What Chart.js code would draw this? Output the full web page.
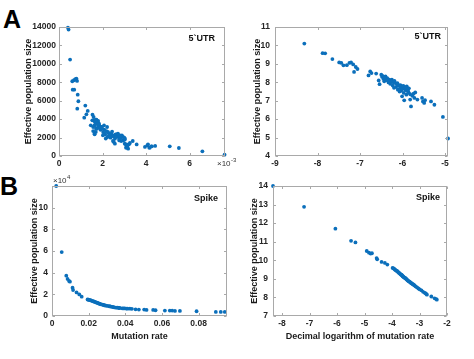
<!DOCTYPE html>
<html><head><meta charset="utf-8">
<script src="https://cdn.jsdelivr.net/npm/chart.js@4.4.1/dist/chart.umd.min.js"></script>
<style>
html,body{margin:0;padding:0;background:#fff;width:474px;height:359px;overflow:hidden;position:relative;font-family:"Liberation Sans",Arial,sans-serif;}
canvas{position:absolute;}
.lbl{position:absolute;font-weight:bold;font-size:25px;color:#000;line-height:1;}
</style></head><body>
<div class="lbl" style="left:3px;top:7px">A</div>
<div class="lbl" style="left:0px;top:174px">B</div>
<canvas id="c1" width="237" height="175" style="left:0;top:0"></canvas>
<canvas id="c2" width="237" height="175" style="left:237px;top:0"></canvas>
<canvas id="c3" width="237" height="184" style="left:0;top:175px"></canvas>
<canvas id="c4" width="237" height="184" style="left:237px;top:175px"></canvas>
<script>
// ---------- DATA ----------
// Panel A left: 5'UTR, mutation rate (x, in units of 10^-3) vs effective population size
const utrRateE3 = [0.41,0.44,0.51,0.61,0.69,0.75,0.80,0.83,0.63,0.70,0.86,0.89,0.84,1.21,1.32,1.16,1.26,1.54,1.59,
 1.62,1.66,1.72,1.75,1.80,1.63,1.57,1.70,1.85,1.91,1.97,1.57,1.63,2.03,2.08,2.12,2.18,2.23,2.28,2.34,2.41,2.49,2.57,2.52,2.65,2.72,2.77,2.83,2.89,2.95,3.03,3.11,3.08,3.18,3.26,3.39,3.57,3.95,4.06,4.15,4.27,4.42,
 1.46,1.53,1.69,1.79,1.69,1.75,1.84,1.64,1.95,2.07,2.10,2.21,2.25,2.30,2.37,2.48,2.60,2.71,2.76,2.57,2.48,2.86,2.94,3.02,3.02,3.09,3.12,3.22,4.09,4.17,4.24,5.09,5.51,6.59,7.61,
 1.68,1.74,1.78,1.88,1.99,2.02,2.15,2.44,2.62,2.80,3.00,3.15];
const utrNe = [13940,13720,10460,8110,8220,8330,8400,8150,7200,7200,6660,5940,5140,5470,4890,4160,4520,4480,4230,
 3860,3650,3940,3510,3800,3320,3150,2970,3320,2850,3150,2710,2420,2600,2850,2340,2710,2060,2490,2240,2420,2130,1880,1520,2340,2130,1690,1980,2240,1690,1880,1260,900,790,1410,1630,1260,980,1150,900,1050,1090,
 3330,3870,3950,3150,2610,2970,3510,2350,3150,3330,2430,3150,2610,2240,1990,2240,2350,2430,1880,1340,1630,1630,2060,1770,1340,1160,905,1270,1270,905,1050,1050,870,510,145,
 3700,3600,3450,3050,2950,2250,1900,2650,2050,2230,2000,1100];
// Panel A right: log of mutation rate vs log of effective population size
const utrLogRate = [-8.31,-7.88,-7.82,-7.65,-7.49,-7.44,-7.39,-7.31,-7.25,-7.21,-7.16,-7.14,-7.10,-7.06,-6.80,-6.76,-6.73,-6.62,-6.56,-6.54,
 -6.50,-6.48,-6.45,-6.43,-6.40,-6.38,-6.36,-6.33,-6.31,-6.29,-6.25,-6.23,-6.21,-6.17,-6.15,-6.13,-6.11,-6.09,-6.06,-6.03,-6.01,-6.00,-5.97,-5.95,-5.93,-5.91,-5.90,-5.88,-5.86,-5.85,
 -6.01,-5.96,-5.82,-5.80,-5.77,-5.74,-5.72,-5.70,-5.65,-5.54,-5.52,-5.49,-5.47,-5.33,-5.25,-5.05,-4.93,
 -6.47,-6.42,-6.35,-6.27,-6.19,-6.12,-6.05,-5.98,-5.92,-5.87,-6.20,-6.07,-5.82];
const utrLogNe = [10.10,9.58,9.57,9.26,9.08,9.05,8.92,8.93,9.05,9.08,8.97,8.56,8.83,8.72,8.37,8.59,8.50,8.47,8.10,7.90,
 8.41,8.29,8.18,8.05,8.32,8.14,8.23,7.99,8.14,7.92,8.14,7.82,7.99,7.96,7.74,7.88,7.60,7.83,7.69,7.54,7.78,7.65,7.42,7.69,7.57,7.33,7.78,7.60,7.46,7.67,
 7.24,7.02,7.06,6.69,7.27,7.38,7.15,7.45,7.06,7.15,6.96,6.88,7.03,6.96,6.78,6.12,4.95,
 8.35,8.25,8.10,8.05,8.08,7.95,7.85,7.80,7.72,7.52,7.70,7.50,7.35];
// Panel B left: Spike, mutation rate vs effective population size (y in units of 10^4)
const spikeRate = [0.0023,0.0053,0.0078,0.0085,0.0093,0.0098,0.0112,0.0115,0.0134,0.0149,0.0162,0.0194,0.0198,0.0203,0.0208,0.0213,0.0218,0.0222,0.0227,0.0231,0.0236,0.0240,0.0245,0.0249,0.0254,0.0258,0.0263,0.0267,0.0276,0.0281,0.0285,0.0290,0.0294,0.0303,0.0312,0.0317,0.0321,0.0330,0.0335,0.0339,0.0349,0.0358,0.0365,0.0370,0.0383,0.0390,0.0397,0.0405,0.0412,0.0425,0.0436,0.0456,0.0474,0.0503,0.0516,0.0552,0.0565,0.0616,0.0643,0.0656,0.0671,0.0698,0.0789,0.0894,0.0921,0.0943];
const spikeNeE4 = [12.0,5.9,3.72,3.42,3.23,3.17,2.61,2.40,2.18,1.99,1.78,1.53,1.50,1.49,1.46,1.44,1.40,1.38,1.35,1.32,1.29,1.26,1.23,1.20,1.17,1.14,1.11,1.08,1.05,1.02,0.99,0.98,0.96,0.93,0.90,0.89,0.87,0.84,0.82,0.80,0.77,0.77,0.74,0.74,0.71,0.70,0.71,0.69,0.68,0.68,0.66,0.62,0.59,0.59,0.56,0.56,0.53,0.50,0.50,0.50,0.47,0.47,0.44,0.38,0.38,0.38];
// Panel B right: log of mutation rate vs log of effective population size
const spikeLogRate = [-8.33,-7.20,-6.06,-5.49,-5.33,-4.92,-4.84,-4.78,-4.73,-4.56,-4.54,-4.38,-4.26,-4.17,
 -3.98,-3.94,-3.91,-3.88,-3.86,-3.83,-3.81,-3.78,-3.76,-3.74,-3.72,-3.70,-3.68,-3.66,-3.64,-3.62,-3.61,-3.59,-3.57,-3.55,-3.53,-3.51,-3.50,-3.48,-3.46,-3.44,-3.43,-3.40,-3.38,-3.35,-3.33,-3.30,-3.28,-3.25,-3.23,-3.20,-3.18,-3.14,-3.09,-3.04,-2.99,-2.93,-2.87,-2.81,-2.78,-2.75,-2.73,-2.57,-2.45,-2.39,-2.37];
const spikeLogNe = [14.00,12.88,11.70,11.05,10.96,10.50,10.41,10.36,10.38,10.12,10.05,9.91,9.86,9.77,
 9.59,9.56,9.52,9.48,9.46,9.43,9.41,9.37,9.34,9.31,9.30,9.26,9.23,9.22,9.20,9.16,9.14,9.12,9.09,9.07,9.05,9.03,9.02,8.99,8.96,8.93,8.91,8.88,8.86,8.83,8.80,8.77,8.75,8.72,8.70,8.67,8.64,8.59,8.54,8.48,8.43,8.38,8.30,8.25,8.22,8.18,8.15,8.05,7.95,7.91,7.88];
// Tick labels
const ticksAlx = [0,2,4,6], ticksAly = [0,2000,4000,6000,8000,10000,12000,14000];
const ticksArx = [-9,-8,-7,-6,-5], ticksAry = [4,5,6,7,8,9,10,11];
const ticksBlx = [0,0.02,0.04,0.06,0.08], ticksBly = [0,2,4,6,8,10];
const ticksBrx = [-8,-7,-6,-5,-4,-3,-2], ticksBry = [7,8,9,10,11,12,13,14];
const yTitle = 'Effective population size';

// ---------- RENDER ----------
const FONT = '"Liberation Sans", Arial, sans-serif';
const pts = (xs, ys) => xs.map((v,i)=>({x:v, y:ys[i]}));
const boxPlugin = {
  id:'box',
  afterDraw(chart, args, o){
    const {ctx, chartArea:a, scales:{x,y}} = chart;
    ctx.save();
    ctx.strokeStyle = '#a9a9a9'; ctx.lineWidth = 1;
    const L=Math.round(a.left)+0.5, R=Math.round(a.right)-0.5, T=Math.round(a.top)+0.5, B=Math.round(a.bottom)-0.5;
    ctx.strokeRect(L, T, R-L, B-T);
    const tl = 2.5;
    ctx.beginPath();
    x.ticks.forEach(t=>{const p=Math.round(x.getPixelForValue(t.value))+0.5; ctx.moveTo(p,B); ctx.lineTo(p,B-tl); ctx.moveTo(p,T); ctx.lineTo(p,T+tl);});
    y.ticks.forEach(t=>{const p=Math.round(y.getPixelForValue(t.value))+0.5; ctx.moveTo(L,p); ctx.lineTo(L+tl,p); ctx.moveTo(R,p); ctx.lineTo(R-tl,p);});
    ctx.stroke();
    ctx.fillStyle = '#111'; ctx.font = 'bold 9px '+FONT; ctx.textAlign='right'; ctx.textBaseline='alphabetic';
    ctx.fillText(o.tag, a.right - o.tagDx, a.top + o.tagDy);
    if (o.exp) {
      ctx.fillStyle = '#333'; ctx.textAlign='left';
      ctx.font = '8px '+FONT;
      const ex = o.exp.where==='br' ? a.right - 8 : a.left + 1;
      const ey = o.exp.where==='br' ? a.bottom + 10 : a.top - 3;
      ctx.fillText('\u00d710', ex, ey);
      const w = ctx.measureText('\u00d710').width;
      ctx.font = '6px '+FONT;
      ctx.fillText(o.exp.p, ex + w + 0.5, ey - 4);
    }
    ctx.restore();
  }
};
function mk(id, data, xs, ys, pad, tag){
  const tickFont = {family:FONT, size:8.5, weight:'bold'};
  const titleFont = {family:FONT, size:9, weight:'bold'};
  new Chart(document.getElementById(id), {
    type:'scatter',
    data:{datasets:[{data, backgroundColor:'#0b6fbb', borderColor:'#0b6fbb', pointRadius:1.9, pointBorderWidth:0, pointHoverRadius:1.9, clip:false}]},
    options:{
      responsive:false, animation:false, events:[],
      layout:{padding:{top:pad.top, right:pad.right, left:0, bottom:0}, autoPadding:false},
      plugins:{legend:{display:false}, tooltip:{enabled:false}, box:tag},
      scales:{
        x:{type:'linear', min:xs.min, max:xs.max,
          afterBuildTicks:s=>{s.ticks = xs.ticks.map(v=>({value:v}));},
          afterFit:s=>{s.height = pad.xh;},
          grid:{display:false, drawTicks:false}, border:{display:false},
          ticks:{font:tickFont, color:'#262626', padding:3, maxRotation:0, autoSkip:false, callback:v=>String(v)},
          title:{display:!!xs.title, text:xs.title||'', font:titleFont, color:'#1a1a1a', padding:{top:0,bottom:16.6}}},
        y:{type:'linear', min:ys.min, max:ys.max,
          afterBuildTicks:s=>{s.ticks = ys.ticks.map(v=>({value:v}));},
          afterFit:s=>{s.width = pad.yw;},
          grid:{display:false, drawTicks:false}, border:{display:false},
          ticks:{font:tickFont, color:'#262626', padding:ys.tp, autoSkip:false, callback:v=>String(v)},
          title:{display:true, text:yTitle, font:titleFont, color:'#1a1a1a', padding:{top:ys.titlePad,bottom:0}}}
      }
    },
    plugins:[boxPlugin]
  });
}
mk('c1', pts(utrRateE3, utrNe), {min:0,max:7.63,ticks:ticksAlx}, {min:0,max:14000,ticks:ticksAly,tp:3,titlePad:23.6},
   {top:27,right:12,xh:19,yw:59}, {tag:'5`UTR', tagDx:10, tagDy:14, exp:{where:'br', p:'-3'}});
mk('c2', pts(utrLogRate, utrLogNe), {min:-9,max:-4.93,ticks:ticksArx}, {min:4,max:11,ticks:ticksAry,tp:5,titlePad:15.3},
   {top:27,right:26,xh:19,yw:38}, {tag:'5`UTR', tagDx:7, tagDy:11.5});
mk('c3', pts(spikeRate, spikeNeE4), {min:0,max:0.0955,ticks:ticksBlx,title:'Mutation rate'}, {min:0,max:12,ticks:ticksBly,tp:4,titlePad:29.3},
   {top:11,right:10,xh:43,yw:52}, {tag:'Spike', tagDx:9, tagDy:15, exp:{where:'tl', p:'4'}});
mk('c4', pts(spikeLogRate, spikeLogNe), {min:-8.33,max:-2,ticks:ticksBrx,title:'Decimal logarithm of mutation rate'}, {min:7,max:14,ticks:ticksBry,tp:5,titlePad:12.3},
   {top:11,right:27,xh:43,yw:36}, {tag:'Spike', tagDx:7, tagDy:14});
</script>
</body></html>
